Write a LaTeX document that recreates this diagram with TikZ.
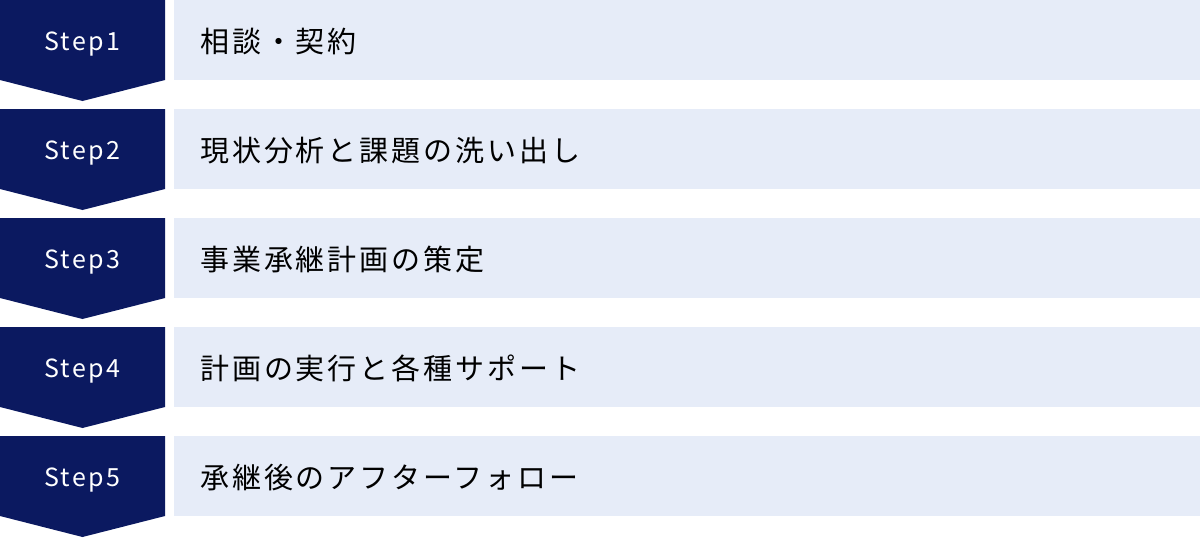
\documentclass[tikz,border=0pt]{standalone}
\usepackage{fontspec}
\setmainfont{Noto Sans CJK JP}
\newfontfamily\jpfont[LetterSpace=10]{Noto Sans CJK JP}
\definecolor{stepnavy}{HTML}{0B1960}
\definecolor{taskblue}{HTML}{E6ECF8}

\tikzstyle{stepshape}=[fill=stepnavy]
\tikzstyle{steplabel}=[text=white,inner sep=0pt,anchor=base,font=\jpfont\fontsize{25}{25}\selectfont]
\tikzstyle{taskbox}=[fill=taskblue,inner sep=0pt,anchor=north west,minimum width=1026pt,minimum height=80pt]
\tikzstyle{tasklabel}=[inner sep=0pt,anchor=base west,font=\jpfont\fontsize{29}{29}\selectfont]

\begin{document}
\begin{tikzpicture}[x=1pt, y=-1pt]
    \useasboundingbox (0,0) rectangle (1200,538);
    % Each row: the step arrow on the left, the task on the right
    \foreach \num/\task in {1/相談・契約, 2/現状分析と課題の洗い出し, 3/事業承継計画の策定,
                            4/計画の実行と各種サポート, 5/承継後のアフターフォロー} {
        \pgfmathsetmacro{\rowtop}{109*(\num-1)}
        \path[stepshape] (0,\rowtop) -- ++(165,0) -- ++(0,80) -- ++(-82.5,21)
            -- ++(-82.5,-21) -- cycle;
        \node[steplabel] (step\num) at (82.5,\rowtop+50) {Step\num};
        \node[taskbox] (box\num) at (174,\rowtop) {};
        \node[tasklabel] (task\num) at (200,\rowtop+52) {\task};
    }
\end{tikzpicture}
\end{document}
